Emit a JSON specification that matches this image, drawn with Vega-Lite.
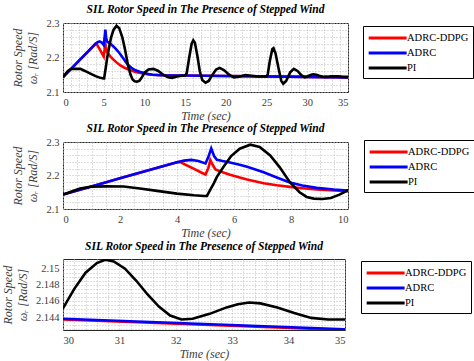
{
  "$schema": "https://vega.github.io/schema/vega-lite/v6.json",
  "padding": {"left": 0, "top": 3, "right": 4, "bottom": 4},
  "background": "white",
  "config": {
    "font": "Liberation Serif, serif",
    "view": {"stroke": "#262626", "strokeWidth": 1},
    "title": {"font": "Liberation Serif, serif", "fontStyle": "italic", "fontWeight": "bold", "fontSize": 11.5, "color": "#000000", "offset": 3},
    "axis": {
      "labelFont": "Liberation Serif, serif", "labelFontSize": 10.5, "labelColor": "#404040",
      "titleFont": "Liberation Serif, serif", "titleFontStyle": "italic", "titleFontWeight": "normal", "titleFontSize": 12, "titleColor": "#404040",
      "gridColor": "#bdbdbd", "gridDash": [1, 2], "gridWidth": 1, "gridOpacity": 1,
      "ticks": false, "domain": false, "labelPadding": 5, "titlePadding": 3, "labelOverlap": false
    },
    "axisY": {"labelPadding": 4, "titlePadding": 6, "titleLineHeight": 15},
    "legend": {
      "orient": "none", "title": null, "strokeColor": "#000000", "fillColor": "white", "padding": 4,
      "symbolType": "M-1,0H5", "symbolSize": 160, "symbolStrokeWidth": 3,
      "labelFont": "Liberation Serif, serif", "labelFontSize": 10.5, "labelColor": "#000000", "labelOffset": 24, "rowPadding": 1
    }
  },
  "datasets": {
    "speed": [
      {"t": 0, "w": 2.143, "s": "ADRC-DDPG"},
      {"t": 1, "w": 2.1672, "s": "ADRC-DDPG"},
      {"t": 2, "w": 2.1915, "s": "ADRC-DDPG"},
      {"t": 3, "w": 2.2158, "s": "ADRC-DDPG"},
      {"t": 4, "w": 2.2398, "s": "ADRC-DDPG"},
      {"t": 4.1, "w": 2.2405, "s": "ADRC-DDPG"},
      {"t": 4.3, "w": 2.232, "s": "ADRC-DDPG"},
      {"t": 4.6, "w": 2.22, "s": "ADRC-DDPG"},
      {"t": 4.85, "w": 2.209, "s": "ADRC-DDPG"},
      {"t": 5.0, "w": 2.203, "s": "ADRC-DDPG"},
      {"t": 5.1, "w": 2.222, "s": "ADRC-DDPG"},
      {"t": 5.17, "w": 2.246, "s": "ADRC-DDPG"},
      {"t": 5.25, "w": 2.232, "s": "ADRC-DDPG"},
      {"t": 5.35, "w": 2.218, "s": "ADRC-DDPG"},
      {"t": 5.5, "w": 2.2125, "s": "ADRC-DDPG"},
      {"t": 5.86, "w": 2.202, "s": "ADRC-DDPG"},
      {"t": 6.2, "w": 2.194, "s": "ADRC-DDPG"},
      {"t": 6.46, "w": 2.188, "s": "ADRC-DDPG"},
      {"t": 7.04, "w": 2.177, "s": "ADRC-DDPG"},
      {"t": 7.5, "w": 2.171, "s": "ADRC-DDPG"},
      {"t": 7.96, "w": 2.166, "s": "ADRC-DDPG"},
      {"t": 8.4, "w": 2.162, "s": "ADRC-DDPG"},
      {"t": 8.9, "w": 2.158, "s": "ADRC-DDPG"},
      {"t": 9.5, "w": 2.155, "s": "ADRC-DDPG"},
      {"t": 10, "w": 2.153, "s": "ADRC-DDPG"},
      {"t": 10.5, "w": 2.151, "s": "ADRC-DDPG"},
      {"t": 11, "w": 2.1498, "s": "ADRC-DDPG"},
      {"t": 12, "w": 2.1486, "s": "ADRC-DDPG"},
      {"t": 20, "w": 2.1464, "s": "ADRC-DDPG"},
      {"t": 30, "w": 2.1437, "s": "ADRC-DDPG"},
      {"t": 35, "w": 2.1424, "s": "ADRC-DDPG"},
      {"t": 0, "w": 2.143, "s": "ADRC"},
      {"t": 1, "w": 2.1672, "s": "ADRC"},
      {"t": 2, "w": 2.1915, "s": "ADRC"},
      {"t": 3, "w": 2.2158, "s": "ADRC"},
      {"t": 4, "w": 2.2398, "s": "ADRC"},
      {"t": 4.25, "w": 2.2445, "s": "ADRC"},
      {"t": 4.5, "w": 2.2465, "s": "ADRC"},
      {"t": 4.75, "w": 2.2435, "s": "ADRC"},
      {"t": 5.0, "w": 2.236, "s": "ADRC"},
      {"t": 5.1, "w": 2.255, "s": "ADRC"},
      {"t": 5.2, "w": 2.281, "s": "ADRC"},
      {"t": 5.3, "w": 2.258, "s": "ADRC"},
      {"t": 5.4, "w": 2.247, "s": "ADRC"},
      {"t": 5.6, "w": 2.243, "s": "ADRC"},
      {"t": 5.86, "w": 2.239, "s": "ADRC"},
      {"t": 6.2, "w": 2.232, "s": "ADRC"},
      {"t": 6.46, "w": 2.226, "s": "ADRC"},
      {"t": 6.75, "w": 2.218, "s": "ADRC"},
      {"t": 7.04, "w": 2.2095, "s": "ADRC"},
      {"t": 7.5, "w": 2.194, "s": "ADRC"},
      {"t": 7.96, "w": 2.179, "s": "ADRC"},
      {"t": 8.4, "w": 2.17, "s": "ADRC"},
      {"t": 8.9, "w": 2.163, "s": "ADRC"},
      {"t": 9.5, "w": 2.158, "s": "ADRC"},
      {"t": 10, "w": 2.155, "s": "ADRC"},
      {"t": 10.5, "w": 2.152, "s": "ADRC"},
      {"t": 11, "w": 2.1502, "s": "ADRC"},
      {"t": 12, "w": 2.1487, "s": "ADRC"},
      {"t": 20, "w": 2.1465, "s": "ADRC"},
      {"t": 30, "w": 2.1438, "s": "ADRC"},
      {"t": 35, "w": 2.1425, "s": "ADRC"},
      {"t": 0, "w": 2.143, "s": "PI"},
      {"t": 0.3, "w": 2.152, "s": "PI"},
      {"t": 0.6, "w": 2.161, "s": "PI"},
      {"t": 0.96, "w": 2.1665, "s": "PI"},
      {"t": 1.5, "w": 2.1675, "s": "PI"},
      {"t": 2.13, "w": 2.167, "s": "PI"},
      {"t": 2.7, "w": 2.161, "s": "PI"},
      {"t": 3.3, "w": 2.154, "s": "PI"},
      {"t": 4.0, "w": 2.146, "s": "PI"},
      {"t": 4.6, "w": 2.141, "s": "PI"},
      {"t": 4.95, "w": 2.139, "s": "PI"},
      {"t": 5.05, "w": 2.139, "s": "PI"},
      {"t": 5.17, "w": 2.158, "s": "PI"},
      {"t": 5.3, "w": 2.178, "s": "PI"},
      {"t": 5.4, "w": 2.196, "s": "PI"},
      {"t": 5.64, "w": 2.227, "s": "PI"},
      {"t": 5.9, "w": 2.258, "s": "PI"},
      {"t": 6.2, "w": 2.28, "s": "PI"},
      {"t": 6.57, "w": 2.292, "s": "PI"},
      {"t": 6.9, "w": 2.285, "s": "PI"},
      {"t": 7.27, "w": 2.26, "s": "PI"},
      {"t": 7.6, "w": 2.225, "s": "PI"},
      {"t": 7.96, "w": 2.18, "s": "PI"},
      {"t": 8.3, "w": 2.15, "s": "PI"},
      {"t": 8.55, "w": 2.136, "s": "PI"},
      {"t": 8.8, "w": 2.131, "s": "PI"},
      {"t": 9.1, "w": 2.13, "s": "PI"},
      {"t": 9.4, "w": 2.133, "s": "PI"},
      {"t": 9.7, "w": 2.143, "s": "PI"},
      {"t": 10, "w": 2.156, "s": "PI"},
      {"t": 10.5, "w": 2.165, "s": "PI"},
      {"t": 11.1, "w": 2.167, "s": "PI"},
      {"t": 11.7, "w": 2.161, "s": "PI"},
      {"t": 12.3, "w": 2.15, "s": "PI"},
      {"t": 12.9, "w": 2.143, "s": "PI"},
      {"t": 13.4, "w": 2.141, "s": "PI"},
      {"t": 14.0, "w": 2.145, "s": "PI"},
      {"t": 14.6, "w": 2.147, "s": "PI"},
      {"t": 15.0, "w": 2.147, "s": "PI"},
      {"t": 15.2, "w": 2.155, "s": "PI"},
      {"t": 15.5, "w": 2.2, "s": "PI"},
      {"t": 15.8, "w": 2.24, "s": "PI"},
      {"t": 16.0, "w": 2.25, "s": "PI"},
      {"t": 16.2, "w": 2.243, "s": "PI"},
      {"t": 16.5, "w": 2.205, "s": "PI"},
      {"t": 16.8, "w": 2.16, "s": "PI"},
      {"t": 17.1, "w": 2.135, "s": "PI"},
      {"t": 17.5, "w": 2.127, "s": "PI"},
      {"t": 17.9, "w": 2.132, "s": "PI"},
      {"t": 18.3, "w": 2.148, "s": "PI"},
      {"t": 18.8, "w": 2.165, "s": "PI"},
      {"t": 19.25, "w": 2.17, "s": "PI"},
      {"t": 19.8, "w": 2.163, "s": "PI"},
      {"t": 20.4, "w": 2.15, "s": "PI"},
      {"t": 21.0, "w": 2.142, "s": "PI"},
      {"t": 21.6, "w": 2.144, "s": "PI"},
      {"t": 22.4, "w": 2.149, "s": "PI"},
      {"t": 23.2, "w": 2.147, "s": "PI"},
      {"t": 24.0, "w": 2.145, "s": "PI"},
      {"t": 25.0, "w": 2.145, "s": "PI"},
      {"t": 25.15, "w": 2.152, "s": "PI"},
      {"t": 25.4, "w": 2.19, "s": "PI"},
      {"t": 25.7, "w": 2.224, "s": "PI"},
      {"t": 25.85, "w": 2.227, "s": "PI"},
      {"t": 26.1, "w": 2.212, "s": "PI"},
      {"t": 26.5, "w": 2.165, "s": "PI"},
      {"t": 26.8, "w": 2.133, "s": "PI"},
      {"t": 27.05, "w": 2.124, "s": "PI"},
      {"t": 27.4, "w": 2.132, "s": "PI"},
      {"t": 27.9, "w": 2.157, "s": "PI"},
      {"t": 28.35, "w": 2.167, "s": "PI"},
      {"t": 28.8, "w": 2.161, "s": "PI"},
      {"t": 29.3, "w": 2.148, "s": "PI"},
      {"t": 29.7, "w": 2.1425, "s": "PI"},
      {"t": 30.0, "w": 2.1451, "s": "PI"},
      {"t": 30.2, "w": 2.1475, "s": "PI"},
      {"t": 30.4, "w": 2.1495, "s": "PI"},
      {"t": 30.6, "w": 2.1507, "s": "PI"},
      {"t": 30.75, "w": 2.1511, "s": "PI"},
      {"t": 30.9, "w": 2.1509, "s": "PI"},
      {"t": 31.1, "w": 2.15, "s": "PI"},
      {"t": 31.3, "w": 2.1485, "s": "PI"},
      {"t": 31.5, "w": 2.1468, "s": "PI"},
      {"t": 31.7, "w": 2.1453, "s": "PI"},
      {"t": 31.9, "w": 2.1442, "s": "PI"},
      {"t": 32.1, "w": 2.1437, "s": "PI"},
      {"t": 32.3, "w": 2.1438, "s": "PI"},
      {"t": 32.6, "w": 2.1444, "s": "PI"},
      {"t": 32.9, "w": 2.1452, "s": "PI"},
      {"t": 33.1, "w": 2.1456, "s": "PI"},
      {"t": 33.3, "w": 2.1458, "s": "PI"},
      {"t": 33.5, "w": 2.1457, "s": "PI"},
      {"t": 33.8, "w": 2.1452, "s": "PI"},
      {"t": 34.1, "w": 2.1445, "s": "PI"},
      {"t": 34.4, "w": 2.1439, "s": "PI"},
      {"t": 34.7, "w": 2.1437, "s": "PI"},
      {"t": 35.0, "w": 2.1437, "s": "PI"}
    ]
  },
  "bounds": "flush",
  "spacing": 50,
  "resolve": {"scale": {"color": "independent"}, "legend": {"color": "independent"}},
  "vconcat": [
    {
      "width": 285, "height": 69,
      "title": "SIL Rotor Speed in The Presence of Stepped Wind",
      "data": {"name": "speed"},
      "mark": {"type": "line", "clip": true, "strokeWidth": 2.6},
      "encoding": {
        "x": {"field": "t", "type": "quantitative", "scale": {"domain": [0, 35], "nice": false},
          "axis": {"title": "Time (sec)", "values": [0,1,2,3,4,5,6,7,8,9,10,11,12,13,14,15,16,17,18,19,20,21,22,23,24,25,26,27,28,29,30,31,32,33,34,35],
            "labelExpr": "datum.value % 5 === 0 ? format(datum.value, 'd') : ''"}},
        "y": {"field": "w", "type": "quantitative", "scale": {"domain": [2.1, 2.3], "nice": false, "zero": false},
          "axis": {"title": ["Rotor Speed", "ωᵣ [Rad/S]"], "values": [2.1,2.12,2.14,2.16,2.18,2.2,2.22,2.24,2.26,2.28,2.3],
            "labelExpr": "abs(datum.value*10 - round(datum.value*10)) < 0.001 ? format(datum.value, '.1f') : ''"}},
        "color": {"field": "s", "type": "nominal",
          "scale": {"domain": ["ADRC-DDPG", "ADRC", "PI"], "range": ["#ff0000", "#0000ff", "#000000"]},
          "legend": {"legendX": 300, "legendY": 3}}
      }
    },
    {
      "width": 285, "height": 67,
      "title": "SIL Rotor Speed in The Presence of Stepped Wind",
      "data": {"name": "speed"},
      "transform": [{"filter": "datum.t <= 10.6"}],
      "mark": {"type": "line", "clip": true, "strokeWidth": 2.6},
      "encoding": {
        "x": {"field": "t", "type": "quantitative", "scale": {"domain": [0, 10], "nice": false},
          "axis": {"title": "Time (sec)", "values": [0,0.5,1,1.5,2,2.5,3,3.5,4,4.5,5,5.5,6,6.5,7,7.5,8,8.5,9,9.5,10],
            "labelExpr": "datum.value % 2 === 0 ? format(datum.value, 'd') : ''"}},
        "y": {"field": "w", "type": "quantitative", "scale": {"domain": [2.1, 2.3], "nice": false, "zero": false},
          "axis": {"title": ["Rotor Speed", "ωᵣ [Rad/S]"], "values": [2.1,2.12,2.14,2.16,2.18,2.2,2.22,2.24,2.26,2.28,2.3],
            "labelExpr": "abs(datum.value*10 - round(datum.value*10)) < 0.001 ? format(datum.value, '.1f') : ''"}},
        "color": {"field": "s", "type": "nominal",
          "scale": {"domain": ["ADRC-DDPG", "ADRC", "PI"], "range": ["#ff0000", "#0000ff", "#000000"]},
          "legend": {"legendX": 301, "legendY": -2}}
      }
    },
    {
      "width": 282, "height": 71,
      "title": "SIL Rotor Speed in The Presence of Stepped Wind",
      "data": {"name": "speed"},
      "transform": [{"filter": "datum.t >= 29"}],
      "mark": {"type": "line", "clip": true, "strokeWidth": 2.6},
      "encoding": {
        "x": {"field": "t", "type": "quantitative", "scale": {"domain": [30, 35], "nice": false},
          "axis": {"title": "Time (sec)", "values": [30,30.2,30.4,30.6,30.8,31,31.2,31.4,31.6,31.8,32,32.2,32.4,32.6,32.8,33,33.2,33.4,33.6,33.8,34,34.2,34.4,34.6,34.8,35],
            "labelExpr": "abs(datum.value - round(datum.value)) < 0.001 ? format(datum.value, 'd') : ''"}},
        "y": {"field": "w", "type": "quantitative", "scale": {"domain": [2.1424, 2.1512], "nice": false, "zero": false},
          "axis": {"title": ["Rotor Speed", "ωᵣ [Rad/S]"], "values": [2.1425,2.143,2.1435,2.144,2.1445,2.145,2.1455,2.146,2.1465,2.147,2.1475,2.148,2.1485,2.149,2.1495,2.15,2.1505,2.151],
            "labelExpr": "abs(datum.value*500 - round(datum.value*500)) < 0.01 ? format(datum.value, '.3~f') : ''"}},
        "color": {"field": "s", "type": "nominal",
          "scale": {"domain": ["ADRC-DDPG", "ADRC", "PI"], "range": ["#ff0000", "#0000ff", "#000000"]},
          "legend": {"legendX": 298, "legendY": 2}}
      }
    }
  ]
}
